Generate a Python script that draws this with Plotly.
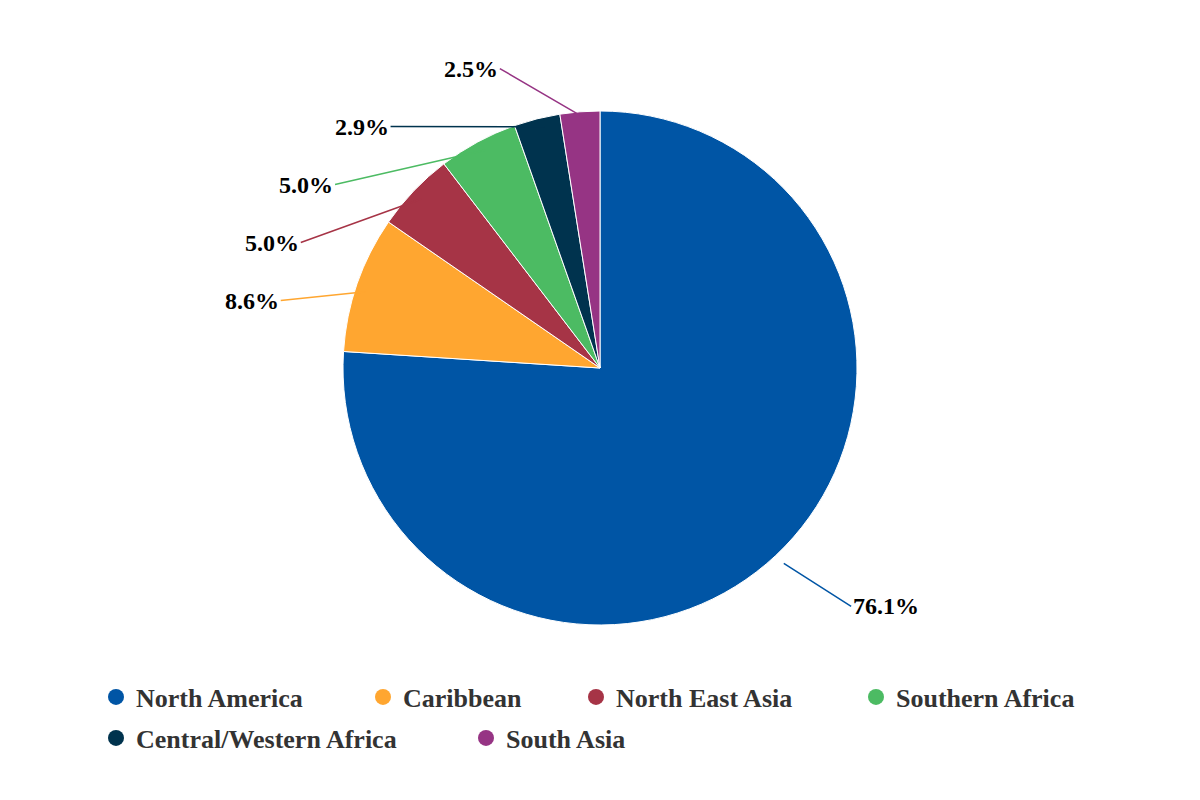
import math
import plotly.graph_objects as go

labels = ["North America", "Caribbean", "North East Asia", "Southern Africa", "Central/Western Africa", "South Asia"]
values = [76.1, 8.6, 5.0, 5.0, 2.9, 2.5]
colors = ["#0055a5", "#ffa630", "#a63446", "#4cbb63", "#00334e", "#963484"]

W, H = 1200, 800
cx, cy, r = 600, 368, 257
dx_fix, dy_fix = -8, -8

# legend entry positions (pixel, left edge / row centre)
leg_pos = [(88, 689), (355, 689), (568, 689), (848, 689), (88, 730), (458, 730)]

fig = go.Figure()
dom = dict(x=[(cx - r + dx_fix) / W, (cx + r + dx_fix) / W],
           y=[1 - (cy + r + dy_fix) / H, 1 - (cy - r + dy_fix) / H])
fig.add_trace(go.Pie(
    labels=labels, values=values, sort=False, direction="clockwise", rotation=0,
    marker=dict(colors=colors, line=dict(color="white", width=1)),
    textinfo="none", hoverinfo="label+percent", domain=dom, showlegend=False,
))
lfont = dict(family="Liberation Serif", size=26, color="#333333", weight="bold")
legends = {}
for i, (lab, col) in enumerate(zip(labels, colors)):
    lname = "legend" if i == 0 else f"legend{i + 1}"
    fig.add_trace(go.Scatter(
        x=[None], y=[None], mode="markers", name=lab,
        marker=dict(symbol="circle", size=26, color=col), legend=lname,
    ))
    px, py = leg_pos[i]
    legends[lname] = dict(orientation="h", x=px / W, xanchor="left", y=1 - py / H,
                          yanchor="middle", font=lfont, itemwidth=30,
                          bgcolor="rgba(0,0,0,0)")

total = sum(values)
cum = 0
items = []
for v, c in zip(values, colors):
    mid = (cum + v / 2) / total * 2 * math.pi
    cum += v
    sx, sy = math.sin(mid), -math.cos(mid)
    items.append(dict(v=v, c=c, sx=sx, sy=sy, ly=cy + 1.2 * r * sy))

left = sorted([it for it in items if it["sx"] < 0], key=lambda it: it["ly"])
prev = None
for it in left:
    if prev is not None and it["ly"] < prev + 58:
        it["ly"] = prev + 58
    prev = it["ly"]

R2 = 1.25 * r
for it in items:
    ex, ey = cx + r * it["sx"], cy + r * it["sy"]
    if it["sx"] < 0:
        dyy = it["ly"] - cy
        lx = cx - math.sqrt(max(R2 ** 2 - dyy ** 2, 0)) - 15
        ly = it["ly"]
        xa = "right"
    else:
        lx = ex + it["sx"] * 40 + 40
        ly = ey + it["sy"] * 45 + 10
        xa = "left"
    fig.add_annotation(
        x=ex / W, y=1 - ey / H, xref="paper", yref="paper",
        ax=lx - ex, ay=ly - ey, showarrow=True, arrowhead=0, arrowwidth=1.5, arrowcolor=it["c"],
        text=f"<b>{it['v']:.1f}%</b>", xanchor=xa,
        font=dict(family="Liberation Serif", size=24, color="black"),
    )

fig.update_layout(
    width=W, height=H, margin=dict(l=0, r=0, t=0, b=0),
    paper_bgcolor="white", plot_bgcolor="white",
    xaxis=dict(visible=False), yaxis=dict(visible=False),
    **legends,
)
fig.write_html("out.html")
